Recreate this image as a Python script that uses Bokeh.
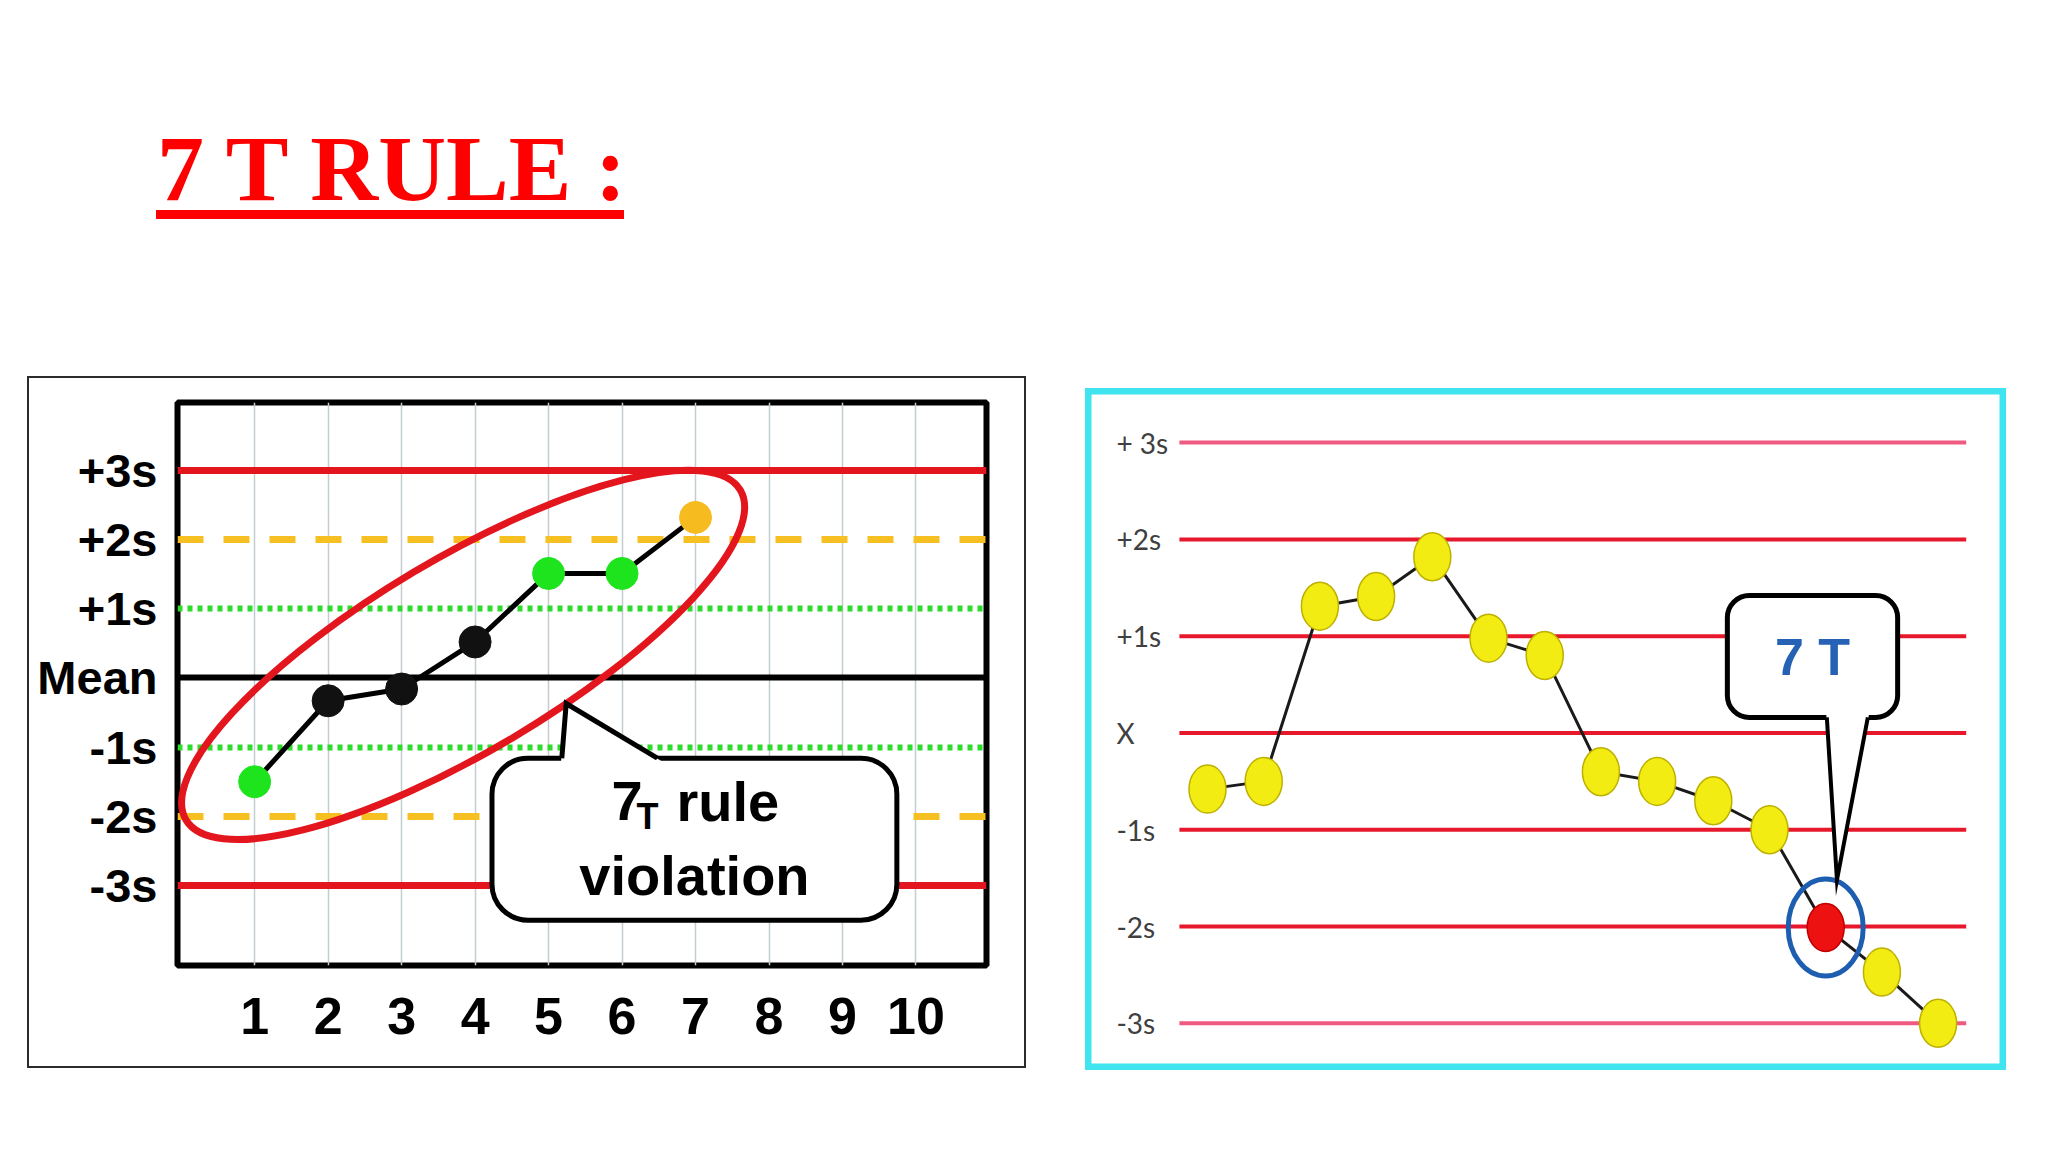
from bokeh.plotting import figure
from bokeh.models import Range1d, FixedTicker, BoxAnnotation, Label, Div
from bokeh.layouts import row, column
from bokeh.embed import file_html
from bokeh.resources import INLINE
from bokeh.core.properties import value

# ---------------- data ----------------
title_text = "7 T RULE :"

left_runs = [1, 2, 3, 4, 5, 6, 7]
left_values = [-1.50, -0.33, -0.16, 0.52, 1.51, 1.51, 2.32]
left_levels = [3, 2, 1, 0, -1, -2, -3]
left_level_labels = ["+3s", "+2s", "+1s", "Mean", "-1s", "-2s", "-3s"]
left_x_ticks = [1, 2, 3, 4, 5, 6, 7, 8, 9, 10]
left_callout_main = "7"
left_callout_sub = "T"
left_callout_rest = "rule"
left_callout_line2 = "violation"

right_runs = list(range(1, 15))
right_values = [-0.58, -0.50, 1.31, 1.41, 1.82, 0.98, 0.80,
                -0.40, -0.50, -0.70, -1.00, -2.01, -2.47, -3.00]
right_levels = [3, 2, 1, 0, -1, -2, -3]
right_level_labels = ["+ 3s", "+2s", "+1s", "X", "-1s", "-2s", "-3s"]
right_callout_text = "7 T"

# ---------------- helpers ----------------
SANS = "Liberation Sans"
NARROW = "Liberation Sans Narrow, Liberation Sans, sans-serif"
RED = "#e3161e"


def zone_color(v):
    a = abs(v)
    if a < 1:
        return "#111111"
    if a < 2:
        return "#1ee41e"
    return "#f6bb1e"


def seven_t_index(vals, n=7):
    up = down = 0
    for i in range(1, len(vals)):
        if vals[i] > vals[i - 1]:
            up, down = up + 1, 0
        elif vals[i] < vals[i - 1]:
            up, down = 0, down + 1
        else:
            up = down = 0
        if up >= n or down >= n:
            return i
    return None


# ---------------- title ----------------
title_div = Div(
    text=(
        '<div style="padding:111px 0 0 152px;margin:0;">'
        '<div style="display:inline-block;font-family:\'Liberation Serif\',serif;font-weight:bold;'
        'font-size:94px;line-height:104px;height:104px;color:#ff0000;white-space:nowrap;margin:0;">'
        + title_text + '</div>'
        '<div style="width:468px;height:9px;background:#ff0000;margin:-10px 0 0 -1px;"></div>'
        '</div>'
    ),
    width=1000, height=300,
)

# ---------------- left chart ----------------
pL = figure(
    width=995, height=688,
    x_range=Range1d(-0.05, 10.96), y_range=Range1d(-4.155, 3.98),
    output_backend="svg", toolbar_location=None,
    min_border_left=148, min_border_right=38, min_border_top=24, min_border_bottom=101,
    background_fill_color="white", border_fill_color="white",
    outline_line_color="black", outline_line_width=6,
    margin=(68, 0, 4, 29), frame_align=False,
    styles={"outline": "2px solid #2b2b2b"},
)

pL.xaxis.ticker = FixedTicker(ticks=left_x_ticks)
pL.yaxis.ticker = FixedTicker(ticks=left_levels)
pL.yaxis.major_label_overrides = {lv: lab for lv, lab in zip(left_levels, left_level_labels)}
for ax in (pL.xaxis, pL.yaxis):
    ax.axis_line_color = None
    ax.major_tick_line_color = None
    ax.minor_tick_line_color = None
    ax.major_tick_out = 0
    ax.major_tick_in = 0
    ax.major_label_text_font = SANS
    ax.major_label_text_font_style = "bold"
    ax.major_label_text_color = "black"
pL.xaxis.major_label_text_font_size = "52px"
pL.xaxis.major_label_standoff = 32
pL.yaxis.major_label_text_font_size = "47px"
pL.yaxis.major_label_standoff = 20

pL.xgrid.grid_line_color = "#c3ccd0"
pL.xgrid.grid_line_width = 1.5
pL.ygrid.grid_line_color = None

level_style = {
    3: (RED, "solid", 7),
    2: ("#f6bf22", "26 20", 7),
    1: ("#2bdc2b", "5 5", 6),
    0: ("#000000", "solid", 6),
}
for lv in left_levels:
    c, d, w = level_style[abs(lv)]
    pL.hspan(y=[lv], line_color=c, line_dash=d, line_width=w)

pL.line(left_runs, left_values, line_color="black", line_width=5)
left_colors = [zone_color(v) for v in left_values]
pL.scatter(left_runs, left_values, size=32, fill_color=left_colors, line_color=left_colors)

# highlight ellipse around the trend
pL.ellipse(x=[3.837], y=[0.332], width=[645], height=[193], angle=[0.5367],
           width_units="screen", height_units="screen",
           fill_color=None, line_color=RED, line_width=7)

# callout
boxL = BoxAnnotation(left=4.23, right=9.74, top=-1.16, bottom=-3.50,
                     fill_color="white", fill_alpha=1.0,
                     line_color="black", line_alpha=1.0, line_width=5, border_radius=36)
pL.add_layout(boxL)
pL.patch(x=[5.17, 5.24, 6.54], y=[-1.205, -0.37, -1.205],
         fill_color="white", line_color=None, level="overlay")
pL.line(x=[5.18, 5.24, 6.48], y=[-1.16, -0.37, -1.16], line_color="black",
        line_width=5, line_join="miter", level="overlay")

cx, ty = 6.985, -1.16
for txt, xo, yo, size, align in [
    (left_callout_main, -83, -43, "56px", "left"),
    (left_callout_sub, -58, -58, "36px", "left"),
    (left_callout_rest, -18, -43, "56px", "left"),
    (left_callout_line2, 0, -117, "56px", "center"),
]:
    pL.add_layout(Label(x=cx, y=ty, x_offset=xo, y_offset=yo, text=txt,
                        text_font=SANS, text_font_style="bold", text_font_size=size,
                        text_color="black", text_align=align, text_baseline="alphabetic"))

# ---------------- right chart ----------------
pR = figure(
    width=921, height=682,
    x_range=Range1d(-1.171, 15.217), y_range=Range1d(-3.487, 3.559),
    x_axis_type=None, y_axis_type=None,
    output_backend="svg", toolbar_location=None,
    min_border_left=0, min_border_right=0, min_border_top=0, min_border_bottom=0,
    background_fill_color="white", border_fill_color="white",
    outline_line_color="#3fe4ee", outline_line_width=12,
    margin=(78, 0, 0, 61), frame_align=False,
)
pR.grid.visible = False

x_start = right_runs[0] - 0.5
x_end = right_runs[-1] + 0.5
for lv in right_levels:
    col = "#ef5a80" if abs(lv) == 3 else "#e8182c"
    pR.segment(x0=[x_start], x1=[x_end], y0=[lv], y1=[lv], line_color=col, line_width=4)

pR.text(x=[right_runs[0] - 1.62] * len(right_levels), y=right_levels, text=right_level_labels,
        text_font=value("Lato"), text_font_size="28px", text_color="#404040",
        text_align="left", text_baseline="middle")

pR.line(right_runs, right_values, line_color="#1a1a1a", line_width=3)

flag = seven_t_index(right_values)
ball_colors = ["#ee1111" if i == flag else "#f2ec12" for i in range(len(right_values))]
ball_lines = ["#c00000" if i == flag else "#bdb000" for i in range(len(right_values))]
pR.ellipse(x=right_runs, y=right_values, width=37, height=48,
           width_units="screen", height_units="screen",
           fill_color=ball_colors, line_color=ball_lines, line_width=1.5)

if flag is not None:
    pR.ellipse(x=[right_runs[flag]], y=[right_values[flag]], width=[75], height=[97],
               width_units="screen", height_units="screen",
               fill_color=None, line_color="#1e5eb0", line_width=5)

boxR = BoxAnnotation(left=10.25, right=13.28, top=1.42, bottom=0.16,
                     fill_color="white", fill_alpha=1.0,
                     line_color="black", line_alpha=1.0, line_width=5, border_radius=22)
pR.add_layout(boxR)
pR.patch(x=[12.01, 12.2, 12.77], y=[0.192, -1.52, 0.192],
         fill_color="white", line_color=None, level="overlay")
pR.line(x=[12.02, 12.2, 12.75], y=[0.16, -1.52, 0.16], line_color="black",
        line_width=4, line_join="miter", level="overlay")
pR.add_layout(Label(x=11.765, y=0.79, text=right_callout_text,
                    text_font=NARROW, text_font_style="bold", text_font_size="52px",
                    text_color="#2562b6", text_align="center", text_baseline="middle"))

layout = column(title_div, row(pL, pR))

with open("out.html", "w") as f:
    f.write(file_html(layout, INLINE))
